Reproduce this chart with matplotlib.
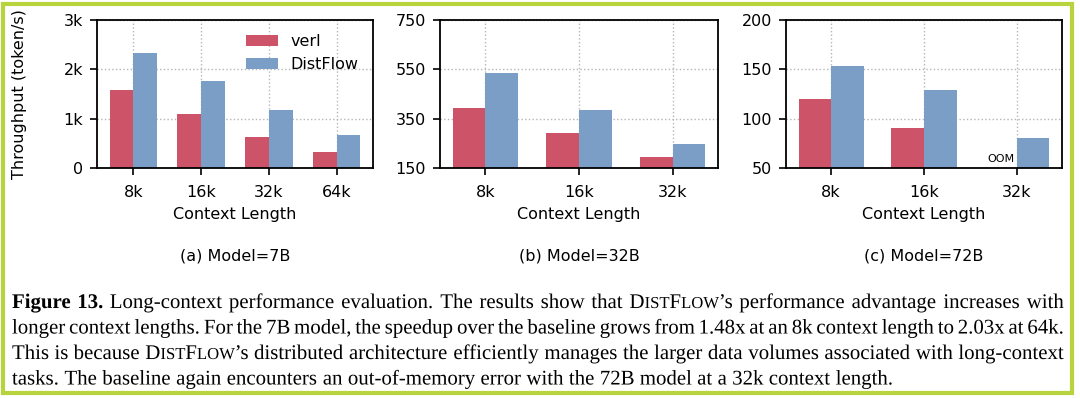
import numpy as np
import matplotlib
matplotlib.use("Agg")
import matplotlib.pyplot as plt
from matplotlib.patches import Rectangle, PathPatch
from matplotlib.textpath import TextPath
from matplotlib.font_manager import FontProperties
from matplotlib.transforms import IdentityTransform

# Throughput (token/s) per context length
contexts_7b = ["8k", "16k", "32k", "64k"]
verl_7b = [1580, 1090, 620, 325]
distflow_7b = [2340, 1765, 1170, 660]

contexts_32b = ["8k", "16k", "32k"]
verl_32b = [395, 290, 196]
distflow_32b = [536, 386, 249]

contexts_72b = ["8k", "16k", "32k"]
verl_72b = [120, 91, None]  # OOM at 32k
distflow_72b = [153, 129, 80]

titles = ["(a) Model=7B", "(b) Model=32B", "(c) Model=72B"]

caption_lines = [
    "Figure 13. Long-context performance evaluation. The results show that DistFlow\u2019s performance advantage increases with",
    "longer context lengths. For the 7B model, the speedup over the baseline grows from 1.48x at an 8k context length to 2.03x at 64k.",
    "This is because DistFlow\u2019s distributed architecture efficiently manages the larger data volumes associated with long-context",
    "tasks. The baseline again encounters an out-of-memory error with the 72B model at a 32k context length.",
]

RED = "#cd5468"
BLUE = "#7b9ec6"
W, H = 1080, 398
SERIF = "Liberation Serif"

plt.rcParams["font.family"] = "DejaVu Sans"
fig = plt.figure(figsize=(W / 100, H / 100), dpi=100)
fig.patch.set_facecolor("white")


def px_axes(left, right, top, bottom):
    return fig.add_axes([left / W, 1 - bottom / H, (right - left) / W, (bottom - top) / H])


def draw_panel(ax, cats, verl, dist, ylim, yticks, yticklabels):
    x = np.arange(len(cats))
    w = 0.35
    for i, v in enumerate(verl):
        if v is None:
            ax.annotate("OOM", (x[i] - w / 2, ylim[0]), xytext=(0, 3), textcoords="offset points",
                        ha="center", va="bottom", fontsize=8)
            continue
        ax.bar(x[i] - w / 2, v, w, color=RED, label="verl" if i == 0 else None, zorder=2)
    ax.bar(x + w / 2, dist, w, color=BLUE, label="DistFlow", zorder=2)
    ax.set_ylim(*ylim)
    ax.set_yticks(yticks)
    ax.set_yticklabels(yticklabels)
    ax.set_xticks(x)
    ax.set_xticklabels(cats)
    ax.set_xlabel("Context Length", fontsize=11.5, labelpad=5)
    ax.grid(True, linestyle=":", color="#b5b5b5", linewidth=1)
    ax.set_axisbelow(True)
    ax.tick_params(labelsize=11.5, length=5, width=1.2)
    ax.tick_params(axis="x", pad=7)
    ax.tick_params(axis="y", pad=5)
    for s in ax.spines.values():
        s.set_linewidth(1.3)


ax1 = px_axes(97, 373, 20, 168)
ax2 = px_axes(440, 718, 20, 168)
ax3 = px_axes(786, 1062, 20, 168)

draw_panel(ax1, contexts_7b, verl_7b, distflow_7b, (0, 3000), [0, 1000, 2000, 3000], ["0", "1k", "2k", "3k"])
draw_panel(ax2, contexts_32b, verl_32b, distflow_32b, (150, 750), [150, 350, 550, 750], ["150", "350", "550", "750"])
draw_panel(ax3, contexts_72b, verl_72b, distflow_72b, (50, 200), [50, 100, 150, 200], ["50", "100", "150", "200"])

ax1.set_ylabel("Throughput (token/s)", fontsize=11.5)
ax1.yaxis.set_label_coords((27 - 97) / 276, 0.5)
ax1.legend(loc="upper right", frameon=False, fontsize=11.5, handlelength=2.0)

for ax, t in zip([ax1, ax2, ax3], titles):
    pos = ax.get_position()
    fig.text(pos.x0 + pos.width / 2, 1 - 256 / H, t, ha="center", va="center", fontsize=11.5)


# Caption: justified, small caps for DistFlow, drawn as text paths so words share one baseline
def word_parts(word, bold):
    if word.startswith("DistFlow"):
        parts = [("D", 1.0), ("IST", 0.8), ("F", 1.0), ("LOW", 0.8)]
        rest = word[len("DistFlow"):]
        if rest:
            parts.append((rest, 1.0))
        return [(t, s, "normal") for t, s in parts]
    return [(word, 1.0, "bold" if bold else "normal")]


renderer = fig.canvas.get_renderer()


def text_width(txt, size, weight):
    t = fig.text(0, 0, txt, fontsize=size, fontweight=weight, family=SERIF)
    wpx = t.get_window_extent(renderer).width
    t.remove()
    return wpx


def build_words(line_idx, size):
    words = []
    for j, wd in enumerate(caption_lines[line_idx].split(" ")):
        bold = line_idx == 0 and j < 2
        parts = []
        for txt, scale, weight in word_parts(wd, bold):
            parts.append((txt, size * scale, weight, text_width(txt, size * scale, weight)))
        words.append(parts)
    return words


x_left, x_right = 12, 1064
baselines = [308, 333.5, 359, 384.5]
space10 = 0.25 * 10 * 100 / 72

# font size: average of the sizes that make each justified line fit with normal spaces
fits = []
for i in range(3):
    probe = build_words(i, 10)
    nat = sum(p[3] for wd in probe for p in wd) + space10 * (len(probe) - 1)
    fits.append(10 * (x_right - x_left) / nat)
cap_size = float(np.mean(fits))

for i, yb in enumerate(baselines):
    words = build_words(i, cap_size)
    widths = sum(p[3] for wd in words for p in wd)
    if i < len(baselines) - 1:
        gap = (x_right - x_left - widths) / (len(words) - 1)
    else:
        gap = 0.25 * cap_size * 100 / 72
    xp = x_left
    for wd in words:
        for txt, size, weight, wpx in wd:
            prop = FontProperties(family=SERIF, weight=weight)
            path = TextPath((xp, H - yb), txt, size=size * 100 / 72, prop=prop)
            fig.add_artist(PathPatch(path, facecolor="black", edgecolor="none",
                                     transform=IdentityTransform()))
            xp += wpx
        xp += gap

# green frame
fig.add_artist(Rectangle((3 / W, 1 - 393 / H), (1071.5 - 3) / W, (393 - 3.5) / H,
                         transform=fig.transFigure, fill=False, edgecolor="#b7d43f", linewidth=3))

fig.savefig("out.png", dpi=100)
